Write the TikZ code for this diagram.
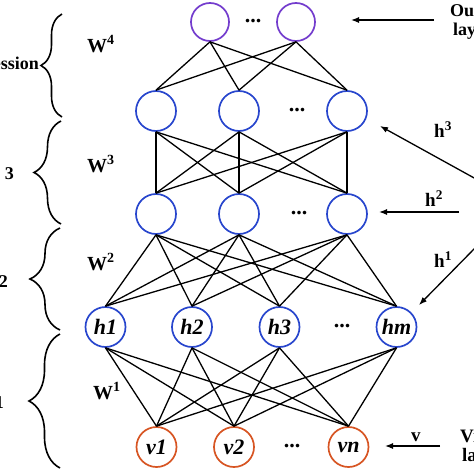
\documentclass[tikz,border=0pt]{standalone}
\usepackage{fontspec}
\setmainfont{Liberation Serif}
\usetikzlibrary{arrows.meta,decorations.pathreplacing}
\definecolor{nblue}{RGB}{40,70,205}
\definecolor{npurple}{RGB}{115,60,205}
\definecolor{norange}{RGB}{215,85,35}
\begin{document}
\begin{tikzpicture}[x=1pt,y=-1pt,
  neuron/.style={circle,draw=nblue,line width=1.7pt,minimum size=40pt,inner sep=0pt,
    font=\fontsize{22}{22}\selectfont\bfseries\itshape},
  outneuron/.style={neuron,draw=npurple,minimum size=38pt},
  visneuron/.style={neuron,draw=norange},
  edge/.style={line width=1.3pt,black},
  dotsnode/.style={inner sep=0pt,font=\fontsize{22}{22}\selectfont\bfseries},
  wlabel/.style={anchor=base west,inner sep=0pt,font=\fontsize{20}{20}\selectfont\bfseries},
  sidelabel/.style={anchor=base west,inner sep=0pt,font=\fontsize{19}{19}\selectfont\bfseries},
  leftlabel/.style={anchor=base east,inner sep=0pt,font=\fontsize{18}{18}\selectfont\bfseries},
  bracestyle/.style={decorate,decoration={brace,amplitude=21pt},line width=1.6pt},
  pointer/.style={line width=1.3pt,-{Latex[length=8pt,width=6pt]}}]
\useasboundingbox (0,0) rectangle (474,474);
\clip (0,0) rectangle (474,474);
% output layer
\node[outneuron] (o1) at (210,22) {};
\node[outneuron] (o2) at (296,22) {};
\node[dotsnode] (od) at (253,21) {...};
% hidden layer 3
\node[neuron] (a1) at (156,111) {};
\node[neuron] (a2) at (239,111) {};
\node[neuron] (a3) at (347,111) {};
\node[dotsnode] (ad) at (297,110) {...};
% hidden layer 2
\node[neuron] (b1) at (156,214) {};
\node[neuron] (b2) at (239,214) {};
\node[neuron] (b3) at (347,214) {};
\node[dotsnode] (bd) at (299,213) {...};
% hidden layer 1
\node[neuron] (h1) at (105.5,327) {h1};
\node[neuron] (h2) at (192,327) {h2};
\node[neuron] (h3) at (279.5,327) {h3};
\node[neuron] (hm) at (396.5,327) {hm};
\node[dotsnode] (hd) at (342,326) {...};
% visible layer
\node[visneuron] (v1) at (156.5,447) {v1};
\node[visneuron] (v2) at (234,447) {v2};
\node[visneuron] (vn) at (348.5,447) {vn};
\node[dotsnode] (vd) at (292,446) {...};
% connections
\foreach \a in {o1,o2} \foreach \b in {a1,a2,a3} \draw[edge] (\a.south) -- (\b.north);
\foreach \a in {a1,a2,a3} \foreach \b in {b1,b2,b3} \draw[edge] (\a.south) -- (\b.north);
\foreach \a in {b1,b2,b3} \foreach \b in {h1,h2,h3,hm} \draw[edge] (\a.south) -- (\b.north);
\foreach \a in {h1,h2,h3,hm} \foreach \b in {v1,v2,vn} \draw[edge] (\a.south) -- (\b.north);
% weight labels
\node[wlabel] (w4) at (87,52) {W\textsuperscript{4}};
\node[wlabel] (w3) at (87,172) {W\textsuperscript{3}};
\node[wlabel] (w2) at (87,270) {W\textsuperscript{2}};
\node[wlabel] (w1) at (93,399) {W\textsuperscript{1}};
% braces
\coordinate (r1b) at (62,117); \coordinate (r1t) at (62,14);
\coordinate (r2b) at (61,224); \coordinate (r2t) at (61,121);
\coordinate (r3b) at (60,330); \coordinate (r3t) at (60,228);
\coordinate (r4b) at (60,468); \coordinate (r4t) at (60,334);
\draw[bracestyle] (r1b) -- (r1t);
\draw[bracestyle,decoration={brace,amplitude=27pt}] (r2b) -- (r2t);
\draw[bracestyle,decoration={brace,amplitude=30pt}] (r3b) -- (r3t);
\draw[bracestyle,decoration={brace,amplitude=31pt}] (r4b) -- (r4t);
\node[leftlabel] (lreg) at (39,69) {Regression};
\node[leftlabel] (lr3) at (14,179) {RBM 3};
\node[leftlabel] (lr2) at (8,287) {RBM 2};
\node[leftlabel] (lr1) at (4,408) {RBM 1};
% right side labels and pointers
\node[anchor=base west,inner sep=0pt,font=\fontsize{18}{18}\selectfont\bfseries] (tout) at (450,16) {Output};
\node[anchor=base west,inner sep=0pt,font=\fontsize{18}{18}\selectfont\bfseries] (tlay) at (453,35) {layer};
\coordinate (pout) at (434,20); \coordinate (poute) at (351,20);
\draw[pointer] (pout) -- (poute);
\node[sidelabel] (th3) at (434,137) {h\textsuperscript{3}};
\coordinate (p3s) at (476,179); \coordinate (p3e) at (380,126);
\draw[pointer] (p3s) -- (p3e);
\node[sidelabel] (th2) at (425,206) {h\textsuperscript{2}};
\coordinate (p2s) at (459,212); \coordinate (p2e) at (379,212);
\draw[pointer] (p2s) -- (p2e);
\node[sidelabel] (th1) at (434,267) {h\textsuperscript{1}};
\coordinate (p1s) at (476,247); \coordinate (p1e) at (419,305);
\draw[pointer] (p1s) -- (p1e);
\node[sidelabel] (tv) at (411,441) {v};
\coordinate (pvs) at (440,446); \coordinate (pve) at (385,446);
\draw[pointer] (pvs) -- (pve);
\node[sidelabel] (tvis) at (460,442) {Visible};
\node[sidelabel] (tvl) at (462,461) {layer};
\end{tikzpicture}
\end{document}
